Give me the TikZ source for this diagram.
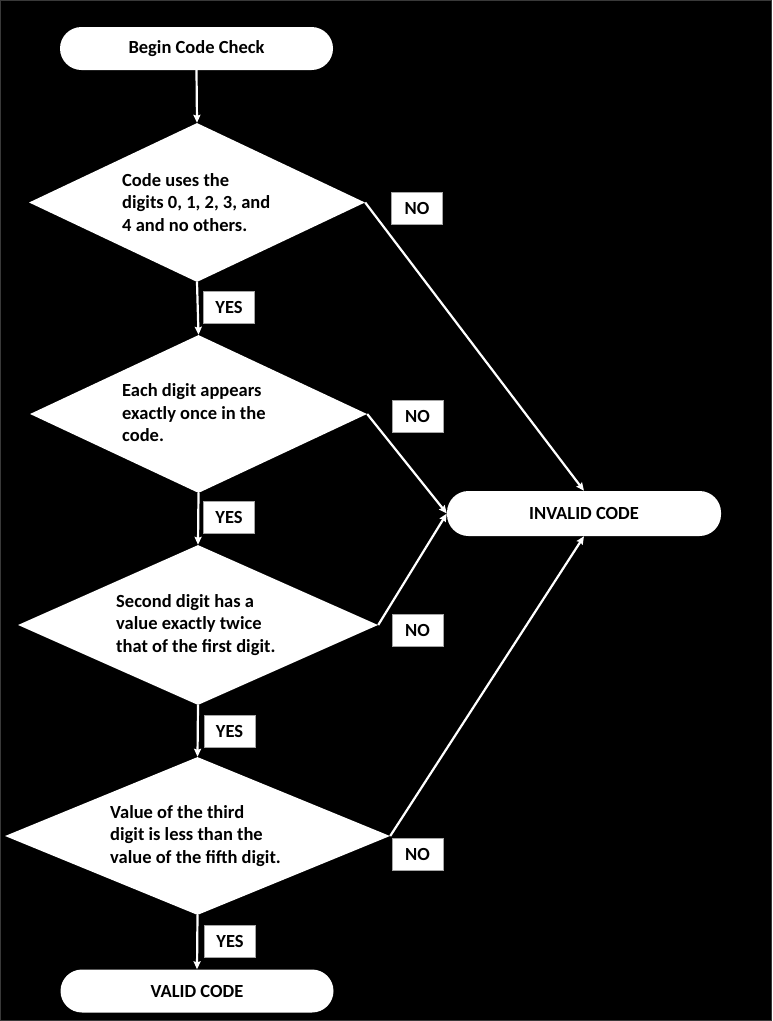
\documentclass[tikz,border=0pt]{standalone}
\usepackage{fontspec}
\setmainfont{Carlito}
\usetikzlibrary{shapes.geometric,arrows.meta}
\tikzset{
  x=1pt,y=1pt,
  every node/.style={font=\bfseries\fontsize{18.5}{22.5}\selectfont, text=black},
  term/.style={fill=white, draw=none, rounded corners=21.5pt, inner sep=0pt},
  dec/.style={diamond, fill=white, draw=none, inner sep=0pt, aspect=2},
  txt/.style={align=left, inner sep=0pt, anchor=west},
  lbl/.style={fill=white, draw=gray!70, line width=1pt, minimum width=51pt, minimum height=32pt, inner sep=0pt},
  conn/.style={draw=white, line width=2.2pt, -{Stealth[length=8pt,width=7pt,inset=1pt]}}
}
\begin{document}
\begin{tikzpicture}
\fill[black] (0,0) rectangle (772,-1021);
\draw[gray!45!black, line width=1pt] (0.5,-0.5) rectangle (771.5,-1020.5);
\useasboundingbox (0,0) rectangle (772,-1021);

% terminals
\node[term, minimum width=273pt, minimum height=43pt] (begin) at (196.5,-48.5) {Begin Code Check};
\node[term, minimum width=274pt, minimum height=45pt] (invalid) at (584,-513.5) {INVALID CODE};
\node[term, minimum width=273pt, minimum height=43pt] (valid) at (197,-991) {VALID CODE};

% decisions
\node[dec, minimum width=336pt, minimum height=159pt] (d1) at (197,-202.5) {};
\node[txt] (t1) at (122,-202.5) {Code uses the\\digits 0, 1, 2, 3, and\\4 and no others.};
\node[dec, minimum width=337pt, minimum height=158pt] (d2) at (198.5,-414) {};
\node[txt] (t2) at (122,-413) {Each digit appears\\exactly once in the\\code.};
\node[dec, minimum width=360pt, minimum height=160pt] (d3) at (198,-625) {};
\node[txt] (t3) at (116,-625) {Second digit has a\\value exactly twice\\that of the first digit.};
\node[dec, minimum width=385pt, minimum height=158pt] (d4) at (197.5,-836) {};
\node[txt] (t4) at (110,-836) {Value of the third\\digit is less than the\\value of the fifth digit.};

% connectors
\draw[conn] (begin.south) -- (d1.north);
\draw[conn] (d1.south) -- (d2.north);
\draw[conn] (d2.south) -- (d3.north);
\draw[conn] (d3.south) -- (d4.north);
\draw[conn] (d4.south) -- (valid.north);
\draw[conn] (d1.east) -- (invalid.north);
\draw[conn] (d2.east) -- (invalid.west);
\draw[conn] (d3.east) -- (invalid.west);
\draw[conn] (d4.east) -- (invalid.south);

% labels
\node[lbl] (y1) at (229,-307) {YES};
\node[lbl] (y2) at (229,-517) {YES};
\node[lbl] (y3) at (229.5,-731.5) {YES};
\node[lbl] (y4) at (230,-941.5) {YES};
\node[lbl] (n1) at (417,-208) {NO};
\node[lbl] (n2) at (417.5,-416.5) {NO};
\node[lbl] (n3) at (417.5,-630) {NO};
\node[lbl] (n4) at (417.5,-854) {NO};
\end{tikzpicture}
\end{document}
